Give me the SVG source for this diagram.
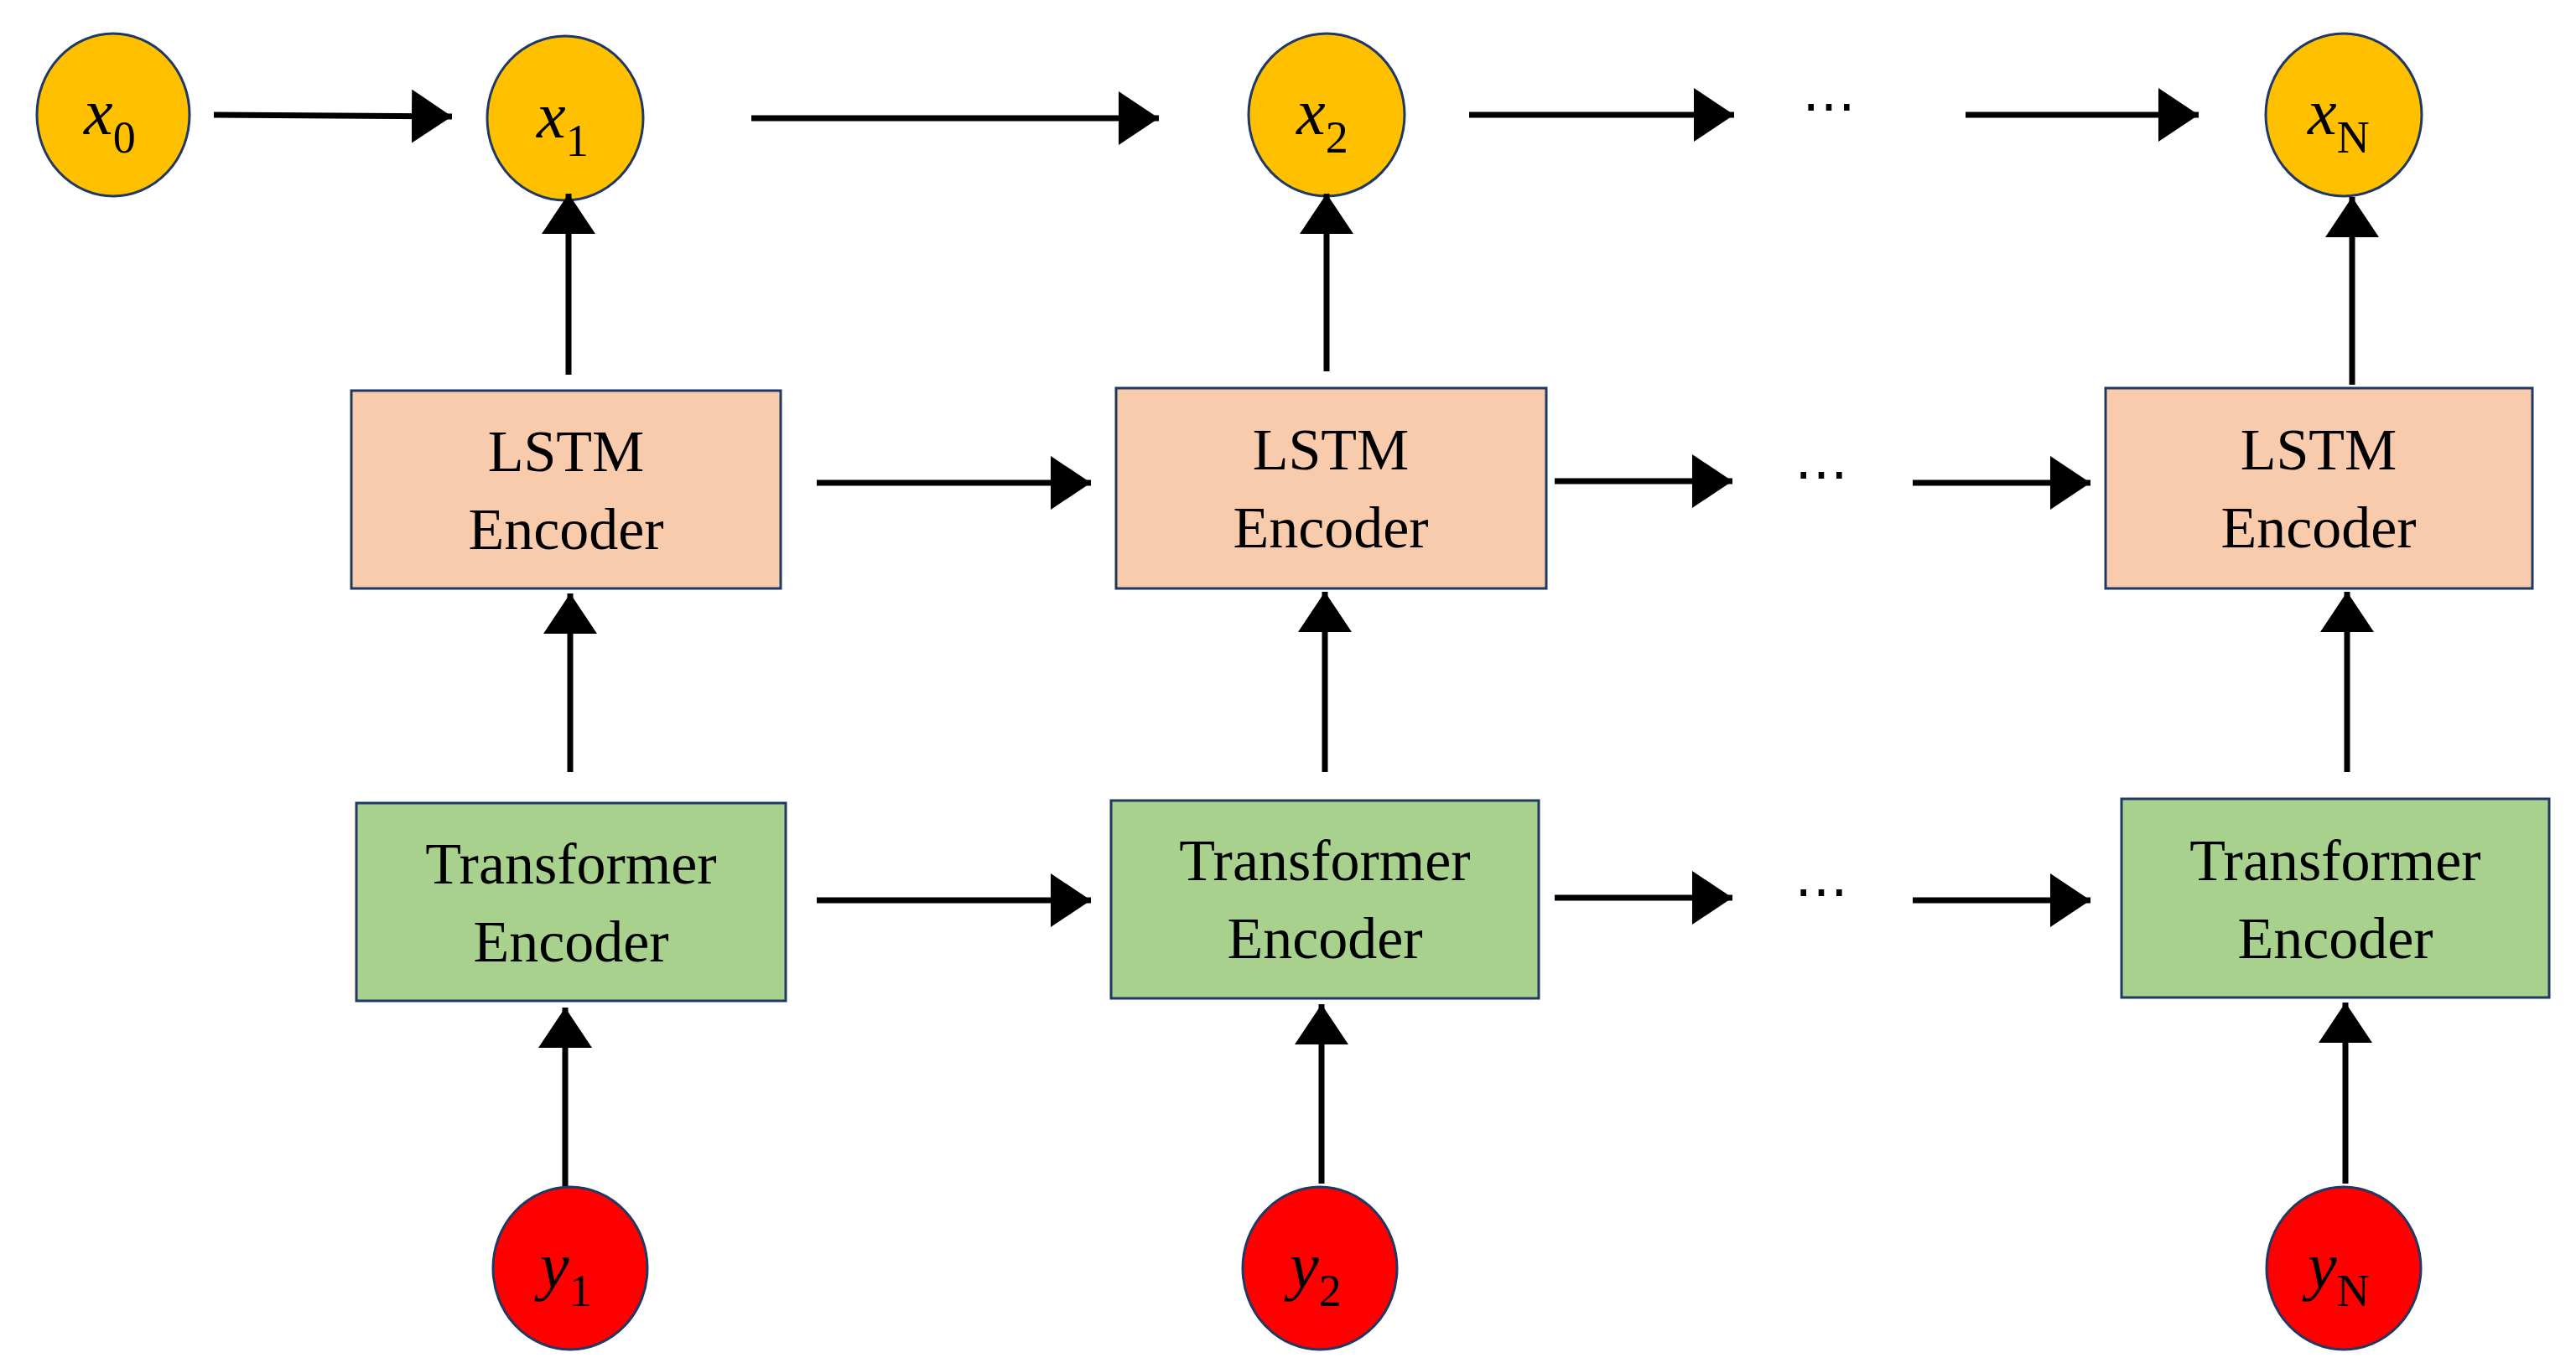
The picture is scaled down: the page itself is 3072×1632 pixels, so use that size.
<svg xmlns="http://www.w3.org/2000/svg" width="3072" height="1632" viewBox="0 0 3072 1632">
<style>
.x{fill:#FFC000;stroke:#1F3864;stroke-width:3}
.y{fill:#FF0000;stroke:#1F3864;stroke-width:3}
.l{fill:#F8CBAD;stroke:#1F3864;stroke-width:3}
.t{fill:#A9D18E;stroke:#1F3864;stroke-width:3}
text{font-family:"Liberation Serif","Times New Roman",serif;fill:#000}
.lab{font-size:70px;text-anchor:middle}
.m{font-size:78px;font-style:italic}
.s{font-size:54px;font-style:normal}
.d{font-size:64px;text-anchor:middle}
#c line{stroke:#000;stroke-width:7;marker-end:url(#a)}
</style>
<defs><marker id="a" markerUnits="userSpaceOnUse" markerWidth="50" markerHeight="64" refX="48" refY="32" orient="auto"><path d="M0,0L48,32L0,64z" fill="#000"/></marker></defs>
<g id="x0"><ellipse class="x" cx="135" cy="137" rx="91" ry="97"/><text class="m" x="100" y="160">x<tspan class="s" dy="22">0</tspan></text></g>
<g id="x1"><ellipse class="x" cx="674" cy="141" rx="93" ry="98"/><text class="m" x="640" y="164">x<tspan class="s" dy="22">1</tspan></text></g>
<g id="x2"><ellipse class="x" cx="1582" cy="137" rx="93" ry="97"/><text class="m" x="1546" y="160">x<tspan class="s" dy="22">2</tspan></text></g>
<g id="xN"><ellipse class="x" cx="2795" cy="137" rx="93" ry="97"/><text class="m" x="2752" y="160">x<tspan class="s" dy="22">N</tspan></text></g>
<g id="y1"><ellipse class="y" cx="680" cy="1513" rx="92" ry="97"/><text class="m" x="644" y="1536">y<tspan class="s" dy="22">1</tspan></text></g>
<g id="y2"><ellipse class="y" cx="1574" cy="1513" rx="92" ry="97"/><text class="m" x="1538" y="1536">y<tspan class="s" dy="22">2</tspan></text></g>
<g id="yN"><ellipse class="y" cx="2795" cy="1513" rx="92" ry="97"/><text class="m" x="2752" y="1536">y<tspan class="s" dy="22">N</tspan></text></g>
<g id="L1"><rect class="l" x="419" y="466" width="512" height="236"/><text class="lab" x="675" y="562">LSTM</text><text class="lab" x="675" y="655">Encoder</text></g>
<g id="L2"><rect class="l" x="1331" y="463" width="513" height="239"/><text class="lab" x="1587" y="560">LSTM</text><text class="lab" x="1587" y="653">Encoder</text></g>
<g id="L3"><rect class="l" x="2511" y="463" width="509" height="239"/><text class="lab" x="2765" y="560">LSTM</text><text class="lab" x="2765" y="653">Encoder</text></g>
<g id="T1"><rect class="t" x="425" y="958" width="512" height="236"/><text class="lab" x="681" y="1054">Transformer</text><text class="lab" x="681" y="1147">Encoder</text></g>
<g id="T2"><rect class="t" x="1325" y="955" width="510" height="236"/><text class="lab" x="1580" y="1050">Transformer</text><text class="lab" x="1580" y="1143">Encoder</text></g>
<g id="T3"><rect class="t" x="2530" y="953" width="510" height="237"/><text class="lab" x="2785" y="1050">Transformer</text><text class="lab" x="2785" y="1143">Encoder</text></g>
<g id="c">
<line x1="255" y1="137" x2="539" y2="139"/>
<line x1="896" y1="141" x2="1382" y2="141"/>
<line x1="1752" y1="137" x2="2068" y2="137"/>
<line x1="2344" y1="137" x2="2622" y2="137"/>
<line x1="974" y1="576" x2="1301" y2="576"/>
<line x1="1854" y1="574" x2="2066" y2="574"/>
<line x1="2281" y1="576" x2="2493" y2="576"/>
<line x1="974" y1="1074" x2="1301" y2="1074"/>
<line x1="1854" y1="1071" x2="2066" y2="1071"/>
<line x1="2281" y1="1074" x2="2493" y2="1074"/>
<line x1="678" y1="447" x2="678" y2="231"/>
<line x1="1582" y1="443" x2="1582" y2="231"/>
<line x1="2805" y1="459" x2="2805" y2="235"/>
<line x1="680" y1="921" x2="680" y2="708"/>
<line x1="1580" y1="921" x2="1580" y2="706"/>
<line x1="2799" y1="921" x2="2799" y2="706"/>
<line x1="674" y1="1415" x2="674" y2="1202"/>
<line x1="1576" y1="1412" x2="1576" y2="1198"/>
<line x1="2797" y1="1412" x2="2797" y2="1196"/>
</g>
<text class="d" x="2181" y="148">⋯</text>
<text class="d" x="2172" y="587">⋯</text>
<text class="d" x="2172" y="1085">⋯</text>
</svg>
